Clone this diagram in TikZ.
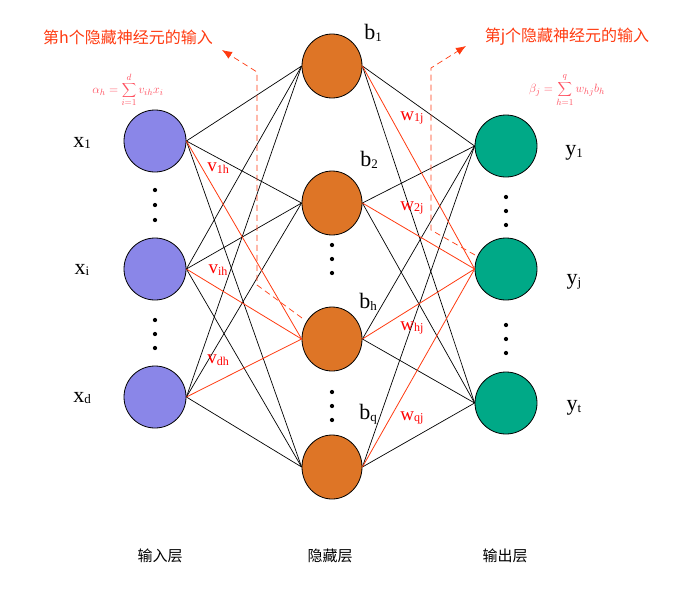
\documentclass[tikz,border=0pt]{standalone}
\usepackage{fontspec}
\setmainfont{Liberation Serif}
\newfontfamily\cjk{Noto Sans CJK SC}
\usetikzlibrary{arrows.meta,shapes.geometric}
\definecolor{inc}{HTML}{8A86E8}
\definecolor{hidc}{HTML}{DE7526}
\definecolor{outc}{HTML}{00A987}
\definecolor{redl}{HTML}{FF3A10}
\definecolor{annc}{HTML}{FF3A10}
\definecolor{formc}{HTML}{FF5060}
\newcommand{\lb}[2]{#1\raisebox{-0.15ex}{\fontsize{13}{13}\selectfont #2}}
\newcommand{\wl}[2]{#1\raisebox{-0.2ex}{\fontsize{12}{12}\selectfont #2}}
\begin{document}
\begin{tikzpicture}[x=1pt,y=-1pt,
  neuron/.style={draw=black,line width=0.8pt,ellipse,minimum width=62pt,minimum height=62pt,inner sep=0pt},
  hid/.style={neuron,fill=hidc,minimum width=60pt,minimum height=64pt},
  blk/.style={draw=black,line width=0.7pt},
  rd/.style={draw=redl,line width=0.8pt},
  big/.style={font=\fontsize{22}{22}\selectfont},
  wlab/.style={text=red,font=\fontsize{19}{19}\selectfont},
  dsh/.style={draw=annc,dashed,dash pattern=on 6pt off 4pt,line width=0.7pt},
  dotn/.style={circle,fill=black,inner sep=1.5pt}]
\useasboundingbox (0,0) rectangle (682,590);
\node[neuron,fill=inc] (x1) at (155,141) {};
\node[neuron,fill=inc] (xi) at (155,269) {};
\node[neuron,fill=inc] (xd) at (155,397) {};
\node[hid] (b1) at (332,66) {};
\node[hid] (b2) at (332,203) {};
\node[hid] (bh) at (332,339) {};
\node[hid] (bq) at (332,467) {};
\node[neuron,fill=outc] (y1) at (506,146) {};
\node[neuron,fill=outc] (yj) at (506,269) {};
\node[neuron,fill=outc] (yt) at (506,403) {};
\foreach \a in {x1,xi,xd}{\foreach \b in {b1,b2,bq}{\draw[blk] (\a.east) -- (\b.west);}}
\foreach \a in {x1,xi,xd}{\draw[rd] (\a.east) -- (bh.west);}
\foreach \b in {b1,b2,bh,bq}{\foreach \c in {y1,yt}{\draw[blk] (\b.east) -- (\c.west);}}
\foreach \b in {b1,b2,bh,bq}{\draw[rd] (\b.east) -- (yj.west);}
\foreach \y in {190,205,220,320,334,348}{\node[dotn] (d\y) at (155,\y) {};}
\foreach \y in {245,259,273,392,406,420}{\node[dotn] (h\y) at (332,\y) {};}
\foreach \y in {197,211,225,325,339,353}{\node[dotn] (o\y) at (506,\y) {};}
\node[big] (lx1) at (82,143) {\lb{x}{1}};
\node[big] (lxi) at (82,270) {\lb{x}{i}};
\node[big] (lxd) at (82,398) {\lb{x}{d}};
\node[big] (lb1) at (373,33) {\lb{b}{1}};
\node[big] (lb2) at (369,160) {\lb{b}{2}};
\node[big] (lbh) at (368,302) {\lb{b}{h}};
\node[big] (lbq) at (368,414) {\lb{b}{q}};
\node[big] (ly1) at (574,153) {\lb{y}{1}};
\node[big] (lyj) at (574,282) {\lb{y}{j}};
\node[big] (lyt) at (574,408) {\lb{y}{t}};
\node[wlab] (v1) at (218,168) {\wl{v}{1h}};
\node[wlab] (v2) at (218,270) {\wl{v}{ih}};
\node[wlab] (v3) at (218,360) {\wl{v}{dh}};
\node[wlab] (w1) at (412,118) {\wl{w}{1j}};
\node[wlab] (w2) at (412,208) {\wl{w}{2j}};
\node[wlab] (w3) at (412,328) {\wl{w}{hj}};
\node[wlab] (w4) at (412,418) {\wl{w}{qj}};
\node[text=annc,font=\cjk\fontsize{16}{16}\selectfont] (t1) at (128,37) {第h个隐藏神经元的输入};
\node[text=annc,font=\cjk\fontsize{16}{16}\selectfont] (t2) at (567,37) {第j个隐藏神经元的输入};
\node[text=formc,font=\fontsize{13}{13}\selectfont] (f1) at (128,90) {$\displaystyle\alpha_h=\sum_{i=1}^{d} v_{ih}x_i$};
\node[text=formc,font=\fontsize{13}{13}\selectfont] (f2) at (567,90) {$\displaystyle\beta_j=\sum_{h=1}^{q} w_{hj}b_h$};
\coordinate (p1) at (302,318); \coordinate (p2) at (257,285); \coordinate (p3) at (257,72); \coordinate (p4) at (222,50);
\draw[dsh,-{Latex[length=10pt,width=8pt]}] (p1) -- (p2) -- (p3) -- (p4);
\coordinate (q1) at (475,255); \coordinate (q2) at (431,230); \coordinate (q3) at (431,68); \coordinate (q4) at (466,46);
\draw[dsh,-{Latex[length=10pt,width=8pt]}] (q1) -- (q2) -- (q3) -- (q4);
\node[font=\cjk\fontsize{15}{15}\selectfont] (c1) at (160,556) {输入层};
\node[font=\cjk\fontsize{15}{15}\selectfont] (c2) at (330,556) {隐藏层};
\node[font=\cjk\fontsize{15}{15}\selectfont] (c3) at (505,556) {输出层};
\end{tikzpicture}
\end{document}
